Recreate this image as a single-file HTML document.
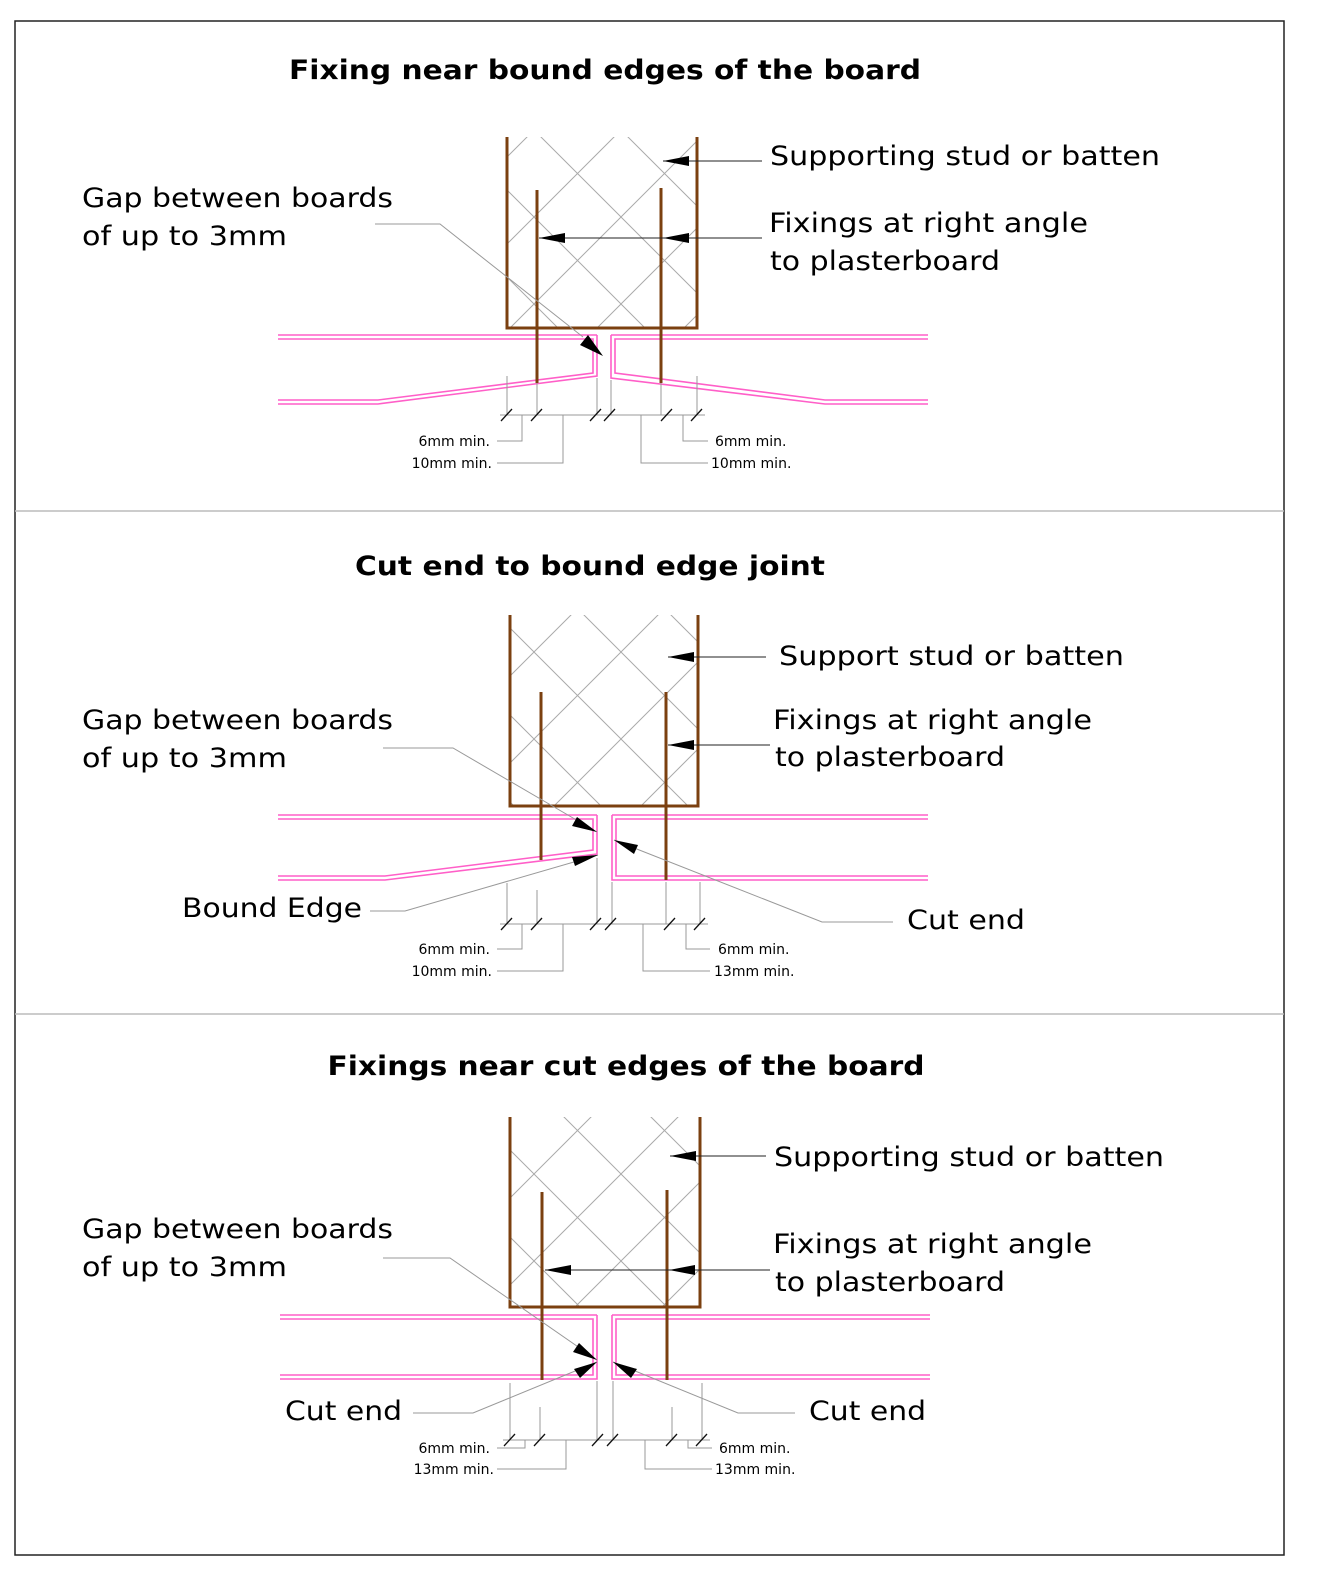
<!DOCTYPE html>
<html><head><meta charset="utf-8"><style>
html,body{margin:0;padding:0;background:#fff}
svg{display:block}
.t{font-family:"DejaVu Sans","Liberation Sans",sans-serif;font-weight:bold;font-size:27px;fill:#000}
.l{font-family:"DejaVu Sans","Liberation Sans",sans-serif;font-size:27px;fill:#000}
.s{font-family:"DejaVu Sans","Liberation Sans",sans-serif;font-size:14px;fill:#000}
.br{stroke:#7b4010;stroke-width:3;fill:none}
.pk{stroke:#ff5fc8;stroke-width:1.6;fill:none}
.g{stroke:#999;stroke-width:1;fill:none}
.k{stroke:#222;stroke-width:1;fill:none}
.d{stroke:#111;stroke-width:1.3}
</style></head><body>
<svg width="1317" height="1588" viewBox="0 0 1317 1588" xmlns="http://www.w3.org/2000/svg">
<defs>
<pattern id="x" width="87" height="87" patternUnits="userSpaceOnUse" x="534" y="130">
<path d="M0,0L87,87M87,0L0,87" stroke="#aaa" stroke-width="1"/>
</pattern>
<marker id="a" markerWidth="30" markerHeight="12" refX="26" refY="5" orient="auto" markerUnits="userSpaceOnUse">
<path d="M26,5L0,0L0,10z" fill="#000"/>
</marker>
</defs>
<rect x="15" y="21" width="1269" height="1534" fill="none" stroke="#222" stroke-width="1.5"/>
<line x1="15" y1="511" x2="1284" y2="511" stroke="#bbb" stroke-width="1.5"/>
<line x1="15" y1="1014" x2="1284" y2="1014" stroke="#bbb" stroke-width="1.5"/>

<!-- PANEL 1 -->
<text class="t" x="605" y="79" text-anchor="middle" textLength="632" lengthAdjust="spacingAndGlyphs">Fixing near bound edges of the board</text>
<rect x="507" y="137" width="190" height="191" fill="url(#x)"/>
<path class="br" d="M507,137V328H697V137"/>
<path class="pk" d="M278,335H597M278,339H593V373L378,400H278M278,404H378L597,376V335"/>
<path class="pk" d="M928,335H611M928,339H615V373L825,400H928M928,404H825L611,378V335"/>
<path class="br" d="M537,190V383M661,188V383"/>
<g class="g"><path d="M507,376V415M537,383V415M597,378V415M611,380V415M661,383V415M697,376V415M500,415H705"/>
<path d="M522,415V441H497M563,415V463H497M641,415V463H708M683,415V441H708"/></g>
<g class="d"><path d="M501,421L512,409M531,421L542,409M590,421L601,409M604,421L615,409M661,421L672,409M691,421L702,409"/></g>
<text class="s" x="490" y="446" text-anchor="end">6mm min.</text>
<text class="s" x="492" y="468" text-anchor="end">10mm min.</text>
<text class="s" x="715" y="446">6mm min.</text>
<text class="s" x="711" y="468">10mm min.</text>
<text class="l" x="770" y="165" textLength="390" lengthAdjust="spacingAndGlyphs">Supporting stud or batten</text>
<path class="k" d="M762,161H663" marker-end="url(#a)"/>
<text class="l" x="769" y="232" textLength="319" lengthAdjust="spacingAndGlyphs">Fixings at right angle</text>
<text class="l" x="770" y="270" textLength="230" lengthAdjust="spacingAndGlyphs">to plasterboard</text>
<path class="k" d="M762,238H539" marker-end="url(#a)"/>
<path class="k" d="M700,238H663" marker-end="url(#a)"/>
<text class="l" x="82" y="207" textLength="311" lengthAdjust="spacingAndGlyphs">Gap between boards</text>
<text class="l" x="82" y="245" textLength="205" lengthAdjust="spacingAndGlyphs">of up to 3mm</text>
<path class="g" d="M375,224H440L583,337"/>
<path d="M603,356L580,345L588,335z" fill="#000"/>

<!-- PANEL 2 -->
<text class="t" x="590" y="575" text-anchor="middle" textLength="470" lengthAdjust="spacingAndGlyphs">Cut end to bound edge joint</text>
<rect x="510" y="615" width="188" height="191" fill="url(#x)"/>
<path class="br" d="M510,615V806H698V615"/>
<path class="pk" d="M278,815H597M278,819H593V850L385,876H278M278,880H385L597,854V815"/>
<path class="pk" d="M928,815H612M928,819H616V876H928M928,880H612V815"/>
<path class="br" d="M541,692V860M666,692V880"/>
<g class="g"><path d="M507,883V924M537,890V924M597,858V924M612,882V924M666,882V924M700,882V924M500,924H708"/>
<path d="M522,924V949H497M563,924V971H497M643,924V971H710M686,924V949H710"/></g>
<g class="d"><path d="M501,930L512,918M531,930L542,918M590,930L601,918M605,930L616,918M664,930L675,918M694,930L705,918"/></g>
<text class="s" x="490" y="954" text-anchor="end">6mm min.</text>
<text class="s" x="492" y="976" text-anchor="end">10mm min.</text>
<text class="s" x="718" y="954">6mm min.</text>
<text class="s" x="714" y="976">13mm min.</text>
<text class="l" x="779" y="665" textLength="345" lengthAdjust="spacingAndGlyphs">Support stud or batten</text>
<path class="k" d="M766,657H668" marker-end="url(#a)"/>
<text class="l" x="773" y="729" textLength="319" lengthAdjust="spacingAndGlyphs">Fixings at right angle</text>
<text class="l" x="775" y="766" textLength="230" lengthAdjust="spacingAndGlyphs">to plasterboard</text>
<path class="k" d="M770,745H668" marker-end="url(#a)"/>
<text class="l" x="82" y="729" textLength="311" lengthAdjust="spacingAndGlyphs">Gap between boards</text>
<text class="l" x="82" y="767" textLength="205" lengthAdjust="spacingAndGlyphs">of up to 3mm</text>
<path class="g" d="M383,748H453L597,832" />
<path d="M597,832L572,826L577,817z" fill="#000"/>
<text class="l" x="182" y="917" textLength="180" lengthAdjust="spacingAndGlyphs">Bound Edge</text>
<path class="g" d="M370,911H405L598,855"/>
<path d="M598,855L575,866L572,857z" fill="#000"/>
<text class="l" x="907" y="929" textLength="118" lengthAdjust="spacingAndGlyphs">Cut end</text>
<path class="g" d="M893,922H822L614,840"/>
<path d="M614,840L638,845L634,854z" fill="#000"/>

<!-- PANEL 3 -->
<text class="t" x="626" y="1075" text-anchor="middle" textLength="597" lengthAdjust="spacingAndGlyphs">Fixings near cut edges of the board</text>
<rect x="510" y="1117" width="190" height="190" fill="url(#x)"/>
<path class="br" d="M510,1117V1307H700V1117"/>
<path class="pk" d="M280,1315H597M280,1319H593V1375H280M280,1379H597V1315"/>
<path class="pk" d="M930,1315H612M930,1319H616V1375H930M930,1379H612V1315"/>
<path class="br" d="M542,1192V1380M667,1190V1380"/>
<g class="g"><path d="M510,1383V1440M540,1407V1440M597,1381V1440M613,1381V1440M672,1407V1440M702,1383V1440M503,1440H710"/>
<path d="M525,1440V1448H497M566,1440V1469H497M645,1440V1469H712M688,1440V1448H712"/></g>
<g class="d"><path d="M504,1446L515,1434M534,1446L545,1434M592,1446L603,1434M607,1446L618,1434M666,1446L677,1434M696,1446L707,1434"/></g>
<text class="s" x="490" y="1453" text-anchor="end">6mm min.</text>
<text class="s" x="494" y="1474" text-anchor="end">13mm min.</text>
<text class="s" x="719" y="1453">6mm min.</text>
<text class="s" x="715" y="1474">13mm min.</text>
<text class="l" x="774" y="1166" textLength="390" lengthAdjust="spacingAndGlyphs">Supporting stud or batten</text>
<path class="k" d="M766,1156H670" marker-end="url(#a)"/>
<text class="l" x="773" y="1253" textLength="319" lengthAdjust="spacingAndGlyphs">Fixings at right angle</text>
<text class="l" x="775" y="1291" textLength="230" lengthAdjust="spacingAndGlyphs">to plasterboard</text>
<path class="k" d="M770,1270H545" marker-end="url(#a)"/>
<path class="k" d="M700,1270H669" marker-end="url(#a)"/>
<text class="l" x="82" y="1238" textLength="311" lengthAdjust="spacingAndGlyphs">Gap between boards</text>
<text class="l" x="82" y="1276" textLength="205" lengthAdjust="spacingAndGlyphs">of up to 3mm</text>
<path class="g" d="M383,1258H450L597,1360"/>
<path d="M597,1360L573,1352L579,1343z" fill="#000"/>
<text class="l" x="285" y="1420" textLength="117" lengthAdjust="spacingAndGlyphs">Cut end</text>
<path class="g" d="M413,1413H473L597,1362"/>
<path d="M597,1362L580,1378L574,1369z" fill="#000"/>
<text class="l" x="809" y="1420" textLength="117" lengthAdjust="spacingAndGlyphs">Cut end</text>
<path class="g" d="M795,1413H738L613,1362"/>
<path d="M613,1362L637,1369L631,1378z" fill="#000"/>
</svg>
</body></html>
